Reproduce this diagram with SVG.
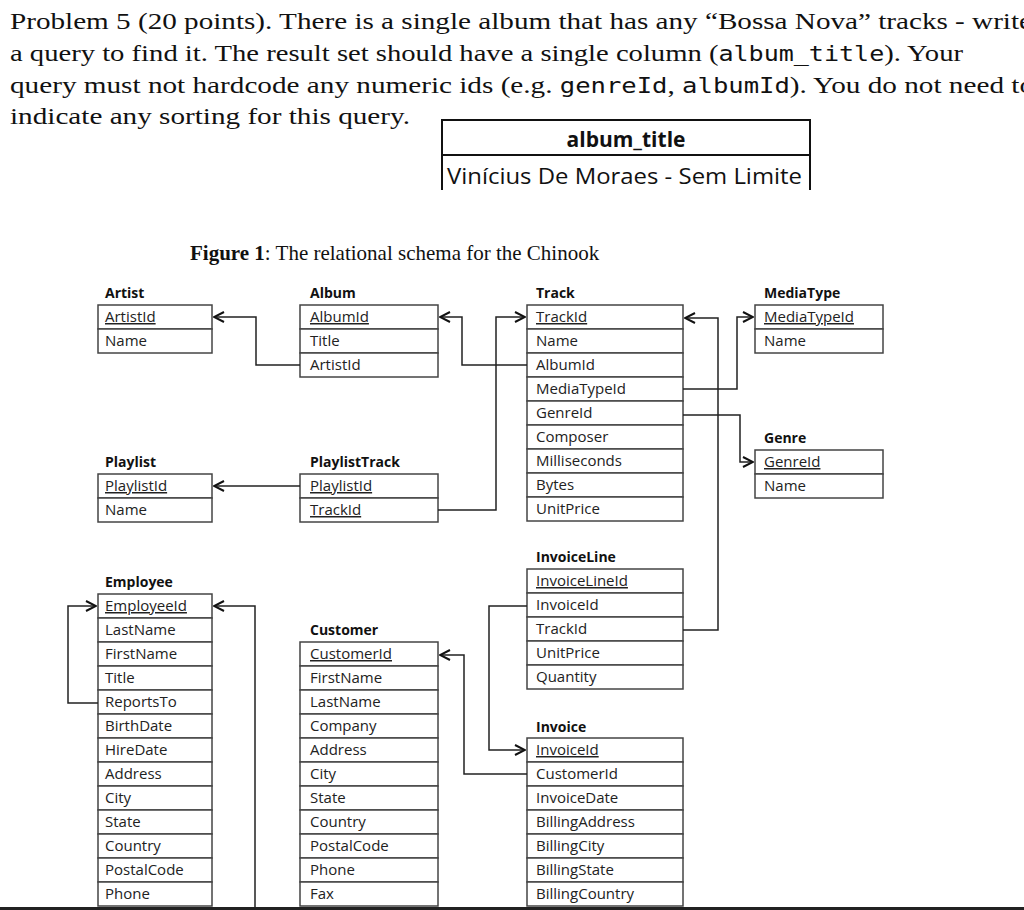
<svg xmlns="http://www.w3.org/2000/svg" width="1024" height="910" viewBox="0 0 1024 910">
<style>
.p{font-family:"Liberation Serif",serif;font-size:24px;fill:#111}
.m{font-family:"DejaVu Sans Mono",monospace;font-size:21px}
.tb{font-family:"Open Sans","Liberation Sans",sans-serif;fill:#111}
.h{font-family:"Open Sans","Liberation Sans",sans-serif;font-size:14px;font-weight:bold;fill:#111}
.f{font-family:"Open Sans","Liberation Sans",sans-serif;font-size:15px;fill:#222}
.u{text-decoration:underline}
.b rect{fill:#fff;stroke:#444;stroke-width:1.5}
.c{fill:none;stroke:#222;stroke-width:1.5}
</style>
<defs>
<marker id="a" viewBox="0 0 12 12" refX="11" refY="6" markerWidth="12" markerHeight="12" markerUnits="userSpaceOnUse" orient="auto"><path d="M1,1 L11,6 L1,11" fill="none" stroke="#111" stroke-width="2"/></marker>
</defs>
<rect width="1024" height="910" fill="#fff"/>
<text class="p" x="10" y="29" textLength="1022" lengthAdjust="spacingAndGlyphs">Problem 5 (20 points). There is a single album that has any “Bossa Nova” tracks - write</text>
<text class="p" x="10" y="61" textLength="953" lengthAdjust="spacingAndGlyphs">a query to find it. The result set should have a single column (<tspan class="m">album_title</tspan>). Your</text>
<text class="p" x="10" y="93" textLength="1024" lengthAdjust="spacingAndGlyphs">query must not hardcode any numeric ids (e.g. <tspan class="m">genreId</tspan>, <tspan class="m">albumId</tspan>). You do not need to</text>
<text class="p" x="10" y="124" textLength="400" lengthAdjust="spacingAndGlyphs">indicate any sorting for this query.</text>
<g id="result">
<path d="M442,190 V120 H810 V190 M442,155 H810" fill="none" stroke="#111" stroke-width="2"/>
<text class="tb" x="626" y="147" font-size="21" font-weight="bold" text-anchor="middle">album_title</text>
<text class="tb" x="447" y="184" font-size="21" textLength="355" lengthAdjust="spacingAndGlyphs">Vinícius De Moraes - Sem Limite</text>
</g>
<text class="p" x="190" y="260" style="font-size:21px"><tspan font-weight="bold">Figure 1</tspan>: The relational schema for the Chinook</text>

<g id="Artist" class="b">
<text class="h" x="105" y="298">Artist</text>
<rect x="98" y="305" width="114" height="24"/><rect x="98" y="329" width="114" height="24"/>
<text class="f u" x="105" y="322">ArtistId</text><text class="f" x="105" y="346">Name</text>
</g>
<g id="Album" class="b">
<text class="h" x="310" y="298">Album</text>
<rect x="300" y="305" width="138" height="24"/><rect x="300" y="329" width="138" height="24"/><rect x="300" y="353" width="138" height="24"/>
<text class="f u" x="310" y="322">AlbumId</text><text class="f" x="310" y="346">Title</text><text class="f" x="310" y="370">ArtistId</text>
</g>
<g id="Track" class="b">
<text class="h" x="536" y="298">Track</text>
<rect x="527" y="305" width="156" height="24"/><rect x="527" y="329" width="156" height="24"/><rect x="527" y="353" width="156" height="24"/><rect x="527" y="377" width="156" height="24"/><rect x="527" y="401" width="156" height="24"/><rect x="527" y="425" width="156" height="24"/><rect x="527" y="449" width="156" height="24"/><rect x="527" y="473" width="156" height="24"/><rect x="527" y="497" width="156" height="24"/>
<text class="f u" x="536" y="322">TrackId</text><text class="f" x="536" y="346">Name</text><text class="f" x="536" y="370">AlbumId</text><text class="f" x="536" y="394">MediaTypeId</text><text class="f" x="536" y="418">GenreId</text><text class="f" x="536" y="442">Composer</text><text class="f" x="536" y="466">Milliseconds</text><text class="f" x="536" y="490">Bytes</text><text class="f" x="536" y="514">UnitPrice</text>
</g>
<g id="MediaType" class="b">
<text class="h" x="764" y="298">MediaType</text>
<rect x="755" y="305" width="128" height="24"/><rect x="755" y="329" width="128" height="24"/>
<text class="f u" x="764" y="322">MediaTypeId</text><text class="f" x="764" y="346">Name</text>
</g>
<g id="Genre" class="b">
<text class="h" x="764" y="443">Genre</text>
<rect x="755" y="450" width="128" height="24"/><rect x="755" y="474" width="128" height="24"/>
<text class="f u" x="764" y="467">GenreId</text><text class="f" x="764" y="491">Name</text>
</g>
<g id="Playlist" class="b">
<text class="h" x="105" y="467">Playlist</text>
<rect x="98" y="474" width="114" height="24"/><rect x="98" y="498" width="114" height="24"/>
<text class="f u" x="105" y="491">PlaylistId</text><text class="f" x="105" y="515">Name</text>
</g>
<g id="PlaylistTrack" class="b">
<text class="h" x="310" y="467">PlaylistTrack</text>
<rect x="300" y="474" width="138" height="24"/><rect x="300" y="498" width="138" height="24"/>
<text class="f u" x="310" y="491">PlaylistId</text><text class="f u" x="310" y="515">TrackId</text>
</g>
<g id="InvoiceLine" class="b">
<text class="h" x="536" y="562">InvoiceLine</text>
<rect x="527" y="569" width="156" height="24"/><rect x="527" y="593" width="156" height="24"/><rect x="527" y="617" width="156" height="24"/><rect x="527" y="641" width="156" height="24"/><rect x="527" y="665" width="156" height="24"/>
<text class="f u" x="536" y="586">InvoiceLineId</text><text class="f" x="536" y="610">InvoiceId</text><text class="f" x="536" y="634">TrackId</text><text class="f" x="536" y="658">UnitPrice</text><text class="f" x="536" y="682">Quantity</text>
</g>
<g id="Employee" class="b">
<text class="h" x="105" y="587">Employee</text>
<rect x="98" y="594" width="114" height="24"/><rect x="98" y="618" width="114" height="24"/><rect x="98" y="642" width="114" height="24"/><rect x="98" y="666" width="114" height="24"/><rect x="98" y="690" width="114" height="24"/><rect x="98" y="714" width="114" height="24"/><rect x="98" y="738" width="114" height="24"/><rect x="98" y="762" width="114" height="24"/><rect x="98" y="786" width="114" height="24"/><rect x="98" y="810" width="114" height="24"/><rect x="98" y="834" width="114" height="24"/><rect x="98" y="858" width="114" height="24"/><rect x="98" y="882" width="114" height="24"/>
<text class="f u" x="105" y="611">EmployeeId</text><text class="f" x="105" y="635">LastName</text><text class="f" x="105" y="659">FirstName</text><text class="f" x="105" y="683">Title</text><text class="f" x="105" y="707">ReportsTo</text><text class="f" x="105" y="731">BirthDate</text><text class="f" x="105" y="755">HireDate</text><text class="f" x="105" y="779">Address</text><text class="f" x="105" y="803">City</text><text class="f" x="105" y="827">State</text><text class="f" x="105" y="851">Country</text><text class="f" x="105" y="875">PostalCode</text><text class="f" x="105" y="899">Phone</text>
</g>
<g id="Customer" class="b">
<text class="h" x="310" y="635">Customer</text>
<rect x="300" y="642" width="138" height="24"/><rect x="300" y="666" width="138" height="24"/><rect x="300" y="690" width="138" height="24"/><rect x="300" y="714" width="138" height="24"/><rect x="300" y="738" width="138" height="24"/><rect x="300" y="762" width="138" height="24"/><rect x="300" y="786" width="138" height="24"/><rect x="300" y="810" width="138" height="24"/><rect x="300" y="834" width="138" height="24"/><rect x="300" y="858" width="138" height="24"/><rect x="300" y="882" width="138" height="24"/>
<text class="f u" x="310" y="659">CustomerId</text><text class="f" x="310" y="683">FirstName</text><text class="f" x="310" y="707">LastName</text><text class="f" x="310" y="731">Company</text><text class="f" x="310" y="755">Address</text><text class="f" x="310" y="779">City</text><text class="f" x="310" y="803">State</text><text class="f" x="310" y="827">Country</text><text class="f" x="310" y="851">PostalCode</text><text class="f" x="310" y="875">Phone</text><text class="f" x="310" y="899">Fax</text>
</g>
<g id="Invoice" class="b">
<text class="h" x="536" y="732">Invoice</text>
<rect x="527" y="738" width="156" height="24"/><rect x="527" y="762" width="156" height="24"/><rect x="527" y="786" width="156" height="24"/><rect x="527" y="810" width="156" height="24"/><rect x="527" y="834" width="156" height="24"/><rect x="527" y="858" width="156" height="24"/><rect x="527" y="882" width="156" height="24"/>
<text class="f u" x="536" y="755">InvoiceId</text><text class="f" x="536" y="779">CustomerId</text><text class="f" x="536" y="803">InvoiceDate</text><text class="f" x="536" y="827">BillingAddress</text><text class="f" x="536" y="851">BillingCity</text><text class="f" x="536" y="875">BillingState</text><text class="f" x="536" y="899">BillingCountry</text>
</g>

<g id="connectors" class="c">
<path class="c" d="M300,365 H256 V317 H214" marker-end="url(#a)"/>
<path class="c" d="M527,365 H462 V317 H440" marker-end="url(#a)"/>
<path class="c" d="M438,510 H496 V317 H525" marker-end="url(#a)"/>
<path class="c" d="M683,389 H737 V317 H753" marker-end="url(#a)"/>
<path class="c" d="M683,415 H740 V462 H753" marker-end="url(#a)"/>
<path class="c" d="M683,630 H718 V318 H685" marker-end="url(#a)"/>
<path class="c" d="M300,486 H214" marker-end="url(#a)"/>
<path class="c" d="M98,703 H68 V606 H96" marker-end="url(#a)"/>
<path class="c" d="M255,910 V606 H214" marker-end="url(#a)"/>
<path class="c" d="M527,606 H489 V750 H525" marker-end="url(#a)"/>
<path class="c" d="M527,774 H464 V655 H440" marker-end="url(#a)"/>
</g>
<rect x="0" y="907" width="1024" height="3" fill="#222"/>
</svg>
